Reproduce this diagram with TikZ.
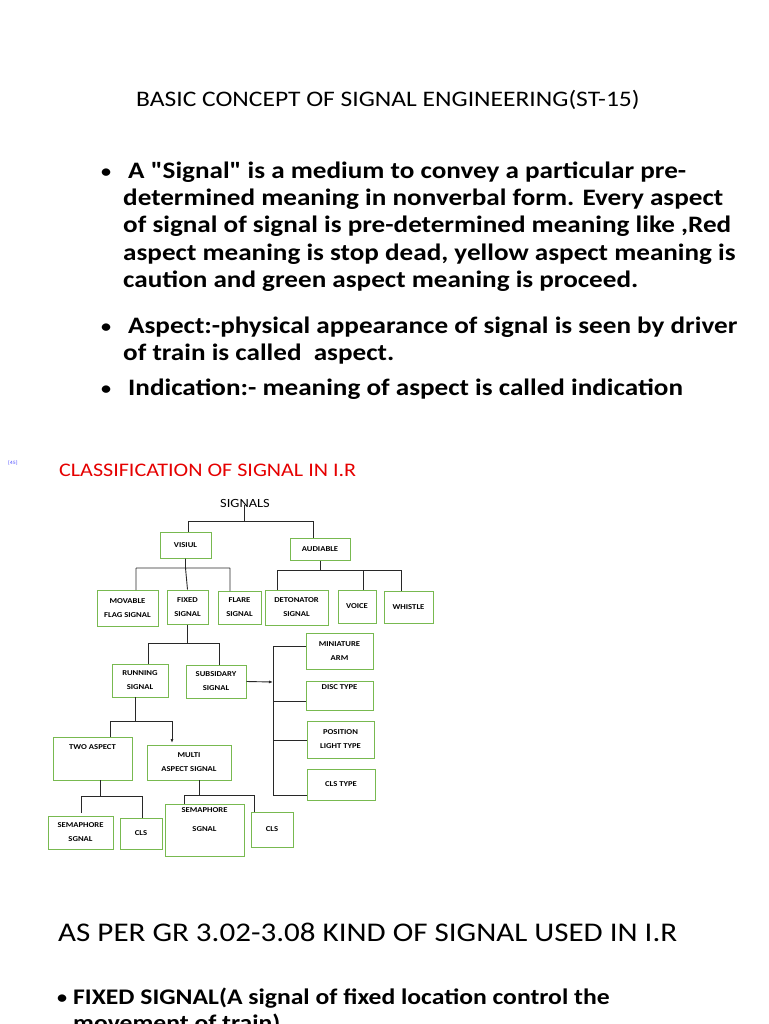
\documentclass[tikz,border=0pt]{standalone}
\usepackage{fontspec}
\setmainfont[FakeStretch=1.15]{Carlito}
\newfontfamily\plainq[FakeStretch=1.15]{Carlito}
\newcommand{\sq}{{\plainq\bfseries"}}
\usetikzlibrary{arrows.meta}
\definecolor{gb}{RGB}{120,185,80}
\definecolor{ln}{RGB}{40,40,40}
\begin{document}
\begin{tikzpicture}[x=1pt,y=-1pt,
 box/.style={draw=gb,line width=1pt,rectangle,inner sep=0pt,align=center,font=\fontsize{7.5}{14}\selectfont\bfseries},
 con/.style={draw=ln,line width=0.9pt},
 txt/.style={anchor=base west,inner sep=0pt,font=\fontsize{23.6}{27}\selectfont\bfseries},
 bul/.style={anchor=base west,inner sep=0pt,font=\fontsize{21}{25}\selectfont}]
\useasboundingbox (0,0) rectangle (768,1024);
\clip (0,0) rectangle (768,1024);
\node[anchor=base west,inner sep=0pt,font=\fontsize{22.2}{26}\selectfont] (title) at (136,107) {BASIC CONCEPT OF SIGNAL ENGINEERING(ST-15)};
\node[bul] (b1) at (100,179) {•};
\node[txt] (l1) at (128,179) {A \sq Signal\sq{} is a medium to convey a particular pre-};
\node[txt] (l2) at (123,206) {determined meaning in nonverbal form. Every aspect};
\node[txt] (l3) at (123,233) {of signal of signal is pre-determined meaning like ,Red};
\node[txt] (l4) at (123,260) {aspect meaning is stop dead, yellow aspect meaning is};
\node[txt] (l5) at (123,287) {caution and green aspect meaning is proceed.};
\node[bul] (b2) at (100,333) {•};
\node[txt] (a1) at (128,333) {Aspect:-physical appearance of signal is seen by driver};
\node[txt] (a2) at (123,360) {of train is called\ \ aspect.};
\node[bul] (b3) at (100,395) {•};
\node[txt] (i1) at (128,395) {Indication:- meaning of aspect is called indication};
\node[anchor=base west,inner sep=0pt,font=\fontsize{5}{6}\selectfont,text=blue!70] (ref) at (8,464) {[45]};
\node[anchor=base west,inner sep=0pt,font=\fontsize{19.2}{22}\selectfont,text=red!90!black] (cls) at (59,476) {CLASSIFICATION OF SIGNAL IN I.R};
\node[anchor=base,inner sep=0pt,font=\fontsize{12.5}{14}\selectfont] (sig) at (245,507) {SIGNALS};
% boxes
\node[box,minimum width=51,minimum height=26] (vis) at (185.5,545) {VISIUL};
\node[box,minimum width=60,minimum height=22] (aud) at (320,549) {AUDIABLE};
\node[box,minimum width=61,minimum height=36] (mov) at (127.5,608) {MOVABLE\\FLAG SIGNAL};
\node[box,minimum width=41,minimum height=34] (fix) at (187.5,607) {FIXED\\SIGNAL};
\node[box,minimum width=43,minimum height=33] (fla) at (239.5,607.5) {FLARE\\SIGNAL};
\node[box,minimum width=63,minimum height=35] (det) at (296.5,607.5) {DETONATOR\\SIGNAL};
\node[box,minimum width=38,minimum height=33] (voi) at (357,606.5) {VOICE};
\node[box,minimum width=49,minimum height=32] (whi) at (408.5,607) {WHISTLE};
\node[box,minimum width=67,minimum height=36] (min) at (339.5,651) {MINIATURE\\ARM};
\node[box,minimum width=56,minimum height=33] (run) at (140,680.5) {RUNNING\\SIGNAL};
\node[box,minimum width=60,minimum height=33] (sub) at (216,681.5) {SUBSIDARY\\SIGNAL};
\node[box,minimum width=67,minimum height=29] (disc) at (339.5,695.5) {};
\node[anchor=north,font=\fontsize{7.5}{9}\selectfont\bfseries,inner sep=0pt] (disct) at (disc.north) [yshift=-4] {DISC TYPE};
\node[box,minimum width=67,minimum height=37] (pos) at (340.5,739.5) {POSITION\\LIGHT TYPE};
\node[box,minimum width=68,minimum height=31] (clst) at (341,784.5) {CLS TYPE};
\node[box,minimum width=79,minimum height=43] (two) at (92.5,758.5) {};
\node[anchor=north,font=\fontsize{7.5}{9}\selectfont\bfseries,inner sep=0pt] (twot) at (two.north) [yshift=-8] {TWO ASPECT};
\node[box,minimum width=84,minimum height=35] (mul) at (189,762.5) {MULTI\\ASPECT SIGNAL};
\node[box,minimum width=65,minimum height=33] (sem1) at (80.5,832.5) {SEMAPHORE\\SGNAL};
\node[box,minimum width=42,minimum height=31] (cls1) at (141,833.5) {CLS};
\node[box,minimum width=79,minimum height=52] (sem2) at (204.5,830) {};
\node[anchor=north,font=\fontsize{7.5}{19}\selectfont\bfseries,inner sep=0pt,align=center] (sem2t) at (sem2.north) [yshift=-4] {SEMAPHORE\\SGNAL};
\node[box,minimum width=42,minimum height=35] (cls2) at (272,829.5) {CLS};
% connectors
\draw[con] (244,505) -- (244,521) (188,521) -- (313,521) (188,521) -- (188,532) (313,521) -- (313,538);
\draw[con] (vis.south) -- (185.5,568) (136,568) -- (230,568) (136,568) -- (136,590) (185.5,568) -- (fix.north) (230,568) -- (230,591);
\draw[con] (aud.south) -- (320,570) (277,570) -- (401,570) (277,570) -- (277,590) (363,570) -- (363,590) (401,570) -- (401,591);
\draw[con] (fix.south) -- (187.5,643) (148,643) -- (219,643) (148,643) -- (148,664) (219,643) -- (219,665);
\draw[con,-{Latex[length=4pt,width=3pt]}] (sub.east) -- (273,682);
\draw[con] (273,646) -- (273,795) (273,646) -- (306,646) (273,701) -- (disc.west|-0,701) (273,740) -- (pos.west|-0,740) (273,795) -- (clst.west|-0,795);
\draw[con] (135,697) -- (135,721) (110,721) -- (172,721) (110,721) -- (110,737);
\draw[con,-{Latex[length=4pt,width=3pt]}] (172,721) -- (172,743);
\draw[con] (100,780) -- (100,796) (81,796) -- (142,796) (81,796) -- (81,813) (142,796) -- (142,818);
\draw[con] (199,780) -- (199,795) (184,795) -- (254,795) (184,795) -- (184,804) (254,795) -- (254,812);
\node[anchor=base west,inner sep=0pt,font=\fontsize{27}{32}\selectfont] (gr) at (58,941) {AS PER GR 3.02-3.08 KIND OF SIGNAL USED IN I.R};
\node[anchor=base west,inner sep=0pt,font=\fontsize{21}{25}\selectfont] (b4) at (56,1004) {•};
\node[anchor=base west,inner sep=0pt,font=\fontsize{22.3}{26}\selectfont\bfseries] (f1) at (73,1004) {FIXED SIGNAL(A signal of fixed location control the};
\node[anchor=base west,inner sep=0pt,font=\fontsize{22.3}{26}\selectfont\bfseries] (f2) at (73,1030) {movement of train)};
\end{tikzpicture}
\end{document}
